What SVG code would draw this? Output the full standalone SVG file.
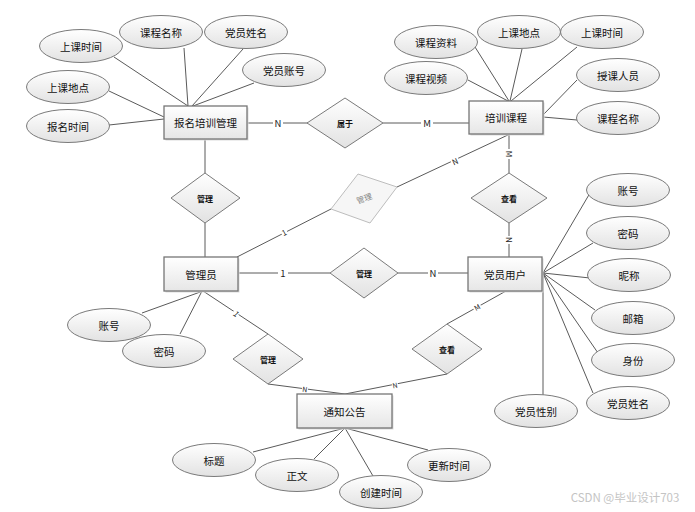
<svg xmlns="http://www.w3.org/2000/svg" width="695" height="512" viewBox="0 0 695 512">
<style>
text{font-family:"Noto Sans CJK SC","Liberation Sans",sans-serif;fill:#111;text-anchor:middle;dominant-baseline:central}
.t{font-size:10.5px}
.d{font-size:8px;font-weight:bold}
.l{font-size:9.5px;fill:#222}
.ls{font-size:8px;fill:#222}
.ent rect.b{fill:url(#gr);stroke:#767676;stroke-width:1.3}
.ent rect.s{fill:#dcdcdc}
.att ellipse{fill:url(#ge);stroke:#7a7a7a;stroke-width:1}
.rel polygon{fill:url(#ge);stroke:#7a7a7a;stroke-width:1}
#connectors line{stroke:#5a5a5a;stroke-width:1}
.bg{fill:#fff}
</style>
<defs>
<linearGradient id="ge" x1="0" y1="0" x2="0" y2="1"><stop offset="0" stop-color="#ffffff"/><stop offset="1" stop-color="#e2e2e2"/></linearGradient>
<linearGradient id="gr" x1="0" y1="0" x2="0" y2="1"><stop offset="0" stop-color="#ffffff"/><stop offset="1" stop-color="#e6e6e6"/></linearGradient>
</defs>
<rect width="695" height="512" fill="#fff"/>
<g id="connectors">
<line x1="114" y1="57" x2="188" y2="106"/>
<line x1="184" y1="48" x2="188" y2="106"/>
<line x1="243" y1="49" x2="192" y2="106"/>
<line x1="254" y1="83" x2="193" y2="106"/>
<line x1="109" y1="91" x2="164" y2="117"/>
<line x1="109" y1="125" x2="164" y2="119"/>
<line x1="247" y1="123" x2="308" y2="123"/>
<line x1="205" y1="139" x2="205" y2="173"/>
<line x1="205" y1="223" x2="205" y2="257"/>
<line x1="383" y1="123" x2="469" y2="123"/>
<line x1="475" y1="47" x2="509" y2="101"/>
<line x1="522" y1="49" x2="510" y2="101"/>
<line x1="577" y1="47" x2="511" y2="101"/>
<line x1="468" y1="80" x2="508" y2="101"/>
<line x1="577" y1="80" x2="543" y2="115"/>
<line x1="577" y1="120" x2="543" y2="117"/>
<line x1="510" y1="134" x2="397" y2="187"/>
<line x1="509" y1="134" x2="509" y2="173"/>
<line x1="509" y1="223" x2="509" y2="257"/>
<line x1="237" y1="257" x2="331" y2="209"/>
<line x1="238" y1="273" x2="330" y2="273"/>
<line x1="398" y1="273" x2="468" y2="273"/>
<line x1="142" y1="313" x2="203" y2="291"/>
<line x1="180" y1="334" x2="202" y2="291"/>
<line x1="203" y1="291" x2="268" y2="334"/>
<line x1="268" y1="384" x2="345" y2="394"/>
<line x1="506" y1="291" x2="447" y2="324"/>
<line x1="447" y1="374" x2="345" y2="394"/>
<line x1="543" y1="273" x2="590" y2="193"/>
<line x1="543" y1="273" x2="593" y2="243"/>
<line x1="543" y1="273" x2="590" y2="278"/>
<line x1="543" y1="273" x2="595" y2="310"/>
<line x1="543" y1="273" x2="598" y2="353"/>
<line x1="543" y1="273" x2="593" y2="393"/>
<line x1="543" y1="273" x2="543" y2="396"/>
<line x1="345" y1="428" x2="253" y2="452"/>
<line x1="345" y1="428" x2="314" y2="459"/>
<line x1="345" y1="428" x2="373" y2="476"/>
<line x1="345" y1="428" x2="428" y2="450"/>
<rect class="bg" x="273" y="117" width="10" height="12"/><text class="l" x="278" y="123">N</text>
<rect class="bg" x="421" y="117" width="12" height="12"/><text class="l" x="427" y="123">M</text>
<rect class="bg" x="278" y="268" width="10" height="11"/><text class="l" x="283" y="273">1</text>
<rect class="bg" x="428" y="268" width="10" height="11"/><text class="l" x="433" y="273">N</text>
<g transform="translate(455,161) rotate(-25)"><rect class="bg" x="-4" y="-5" width="8" height="10"/><text class="ls" x="0" y="0">N</text></g>
<g transform="translate(509,154) rotate(90)"><rect class="bg" x="-5" y="-5" width="10" height="10"/><text class="ls" x="0" y="0">M</text></g>
<g transform="translate(509,240) rotate(90)"><rect class="bg" x="-4" y="-5" width="8" height="10"/><text class="ls" x="0" y="0">N</text></g>
<g transform="translate(284,232) rotate(-27)"><rect class="bg" x="-3" y="-5" width="6" height="10"/><text class="ls" x="0" y="0">1</text></g>
<g transform="translate(236,313) rotate(33)"><rect class="bg" x="-3" y="-4" width="6" height="8"/><text class="ls" x="0" y="0" font-style="italic">1</text></g>
<g transform="translate(305,389) rotate(7)"><rect class="bg" x="-3" y="-4" width="6" height="8"/><text class="ls" x="0" y="0" style="font-size:7px">N</text></g>
<g transform="translate(395,385) rotate(-11)"><rect class="bg" x="-3" y="-4" width="6" height="8"/><text class="ls" x="0" y="0" style="font-size:7px">N</text></g>
<g transform="translate(477,307) rotate(-29)"><rect class="bg" x="-4" y="-4" width="8" height="8"/><text class="ls" x="0" y="0" style="font-size:7px">M</text></g>
</g>
<g id="e-baoming" class="ent"><rect class="s" x="165.5" y="107.5" width="83" height="33"/><rect class="b" x="164" y="106" width="83" height="33"/><text class="t" x="205.5" y="122.5">报名培训管理</text></g>
<g id="e-kecheng" class="ent"><rect class="s" x="470.5" y="102.5" width="74" height="33"/><rect class="b" x="469" y="101" width="74" height="33"/><text class="t" x="506" y="117.5">培训课程</text></g>
<g id="e-admin" class="ent"><rect class="s" x="165.5" y="258.5" width="74" height="34"/><rect class="b" x="164" y="257" width="74" height="34"/><text class="t" x="201" y="274">管理员</text></g>
<g id="e-user" class="ent"><rect class="s" x="469.5" y="258.5" width="74" height="34"/><rect class="b" x="468" y="257" width="74" height="34"/><text class="t" x="505" y="274">党员用户</text></g>
<g id="e-notice" class="ent"><rect class="s" x="298.5" y="395.5" width="95" height="34"/><rect class="b" x="297" y="394" width="95" height="34"/><text class="t" x="344.5" y="411">通知公告</text></g>
<g id="r-shuyu" class="rel"><polygon points="307,123 345,98 383,123 345,148"/><text class="d" x="345" y="123">属于</text></g>
<g id="r-guanli1" class="rel"><polygon points="171,198 205,173 240,198 205,223"/><text class="d" x="205" y="198">管理</text></g>
<g id="r-chakan1" class="rel"><polygon points="471,198 509,173 547,198 509,223"/><text class="d" x="509" y="198">查看</text></g>
<g id="r-guanli-gray"><polygon points="358,174 397,187 370,223 331,209" fill="#f6f6f6" stroke="#bdbdbd" stroke-width="1"/><text x="364" y="198" transform="rotate(-20 364 198)" style="font-size:8px;fill:#888">管理</text></g>
<g id="r-guanli2" class="rel"><polygon points="330,273 364,248 398,273 364,298"/><text class="d" x="364" y="273">管理</text></g>
<g id="r-guanli3" class="rel"><polygon points="233,359 268,334 303,359 268,384"/><text class="d" x="268" y="359">管理</text></g>
<g id="r-chakan2" class="rel"><polygon points="412,349 447,324 482,349 447,374"/><text class="d" x="447" y="349">查看</text></g>
<g id="a1" class="att"><ellipse cx="81" cy="46" rx="41.5" ry="16.5"/><text class="t" x="81" y="46">上课时间</text></g>
<g id="a2" class="att"><ellipse cx="161" cy="32" rx="41.5" ry="16.5"/><text class="t" x="161" y="32">课程名称</text></g>
<g id="a3" class="att"><ellipse cx="246" cy="32" rx="41.5" ry="16.5"/><text class="t" x="246" y="32">党员姓名</text></g>
<g id="a4" class="att"><ellipse cx="284" cy="70" rx="41.5" ry="16.5"/><text class="t" x="284" y="70">党员账号</text></g>
<g id="a5" class="att"><ellipse cx="68" cy="87" rx="41.5" ry="16.5"/><text class="t" x="68" y="87">上课地点</text></g>
<g id="a6" class="att"><ellipse cx="68" cy="126" rx="41.5" ry="16.5"/><text class="t" x="68" y="126">报名时间</text></g>
<g id="a7" class="att"><ellipse cx="436" cy="42" rx="41.5" ry="16.5"/><text class="t" x="436" y="42">课程资料</text></g>
<g id="a8" class="att"><ellipse cx="519" cy="32" rx="41.5" ry="16.5"/><text class="t" x="519" y="32">上课地点</text></g>
<g id="a9" class="att"><ellipse cx="602" cy="32" rx="41.5" ry="16.5"/><text class="t" x="602" y="32">上课时间</text></g>
<g id="a10" class="att"><ellipse cx="426" cy="78" rx="41.5" ry="16.5"/><text class="t" x="426" y="78">课程视频</text></g>
<g id="a11" class="att"><ellipse cx="618" cy="75" rx="41.5" ry="16.5"/><text class="t" x="618" y="75">授课人员</text></g>
<g id="a12" class="att"><ellipse cx="618" cy="118" rx="41.5" ry="16.5"/><text class="t" x="618" y="118">课程名称</text></g>
<g id="a13" class="att"><ellipse cx="628" cy="190" rx="41.5" ry="16.5"/><text class="t" x="628" y="190">账号</text></g>
<g id="a14" class="att"><ellipse cx="628" cy="233" rx="41.5" ry="16.5"/><text class="t" x="628" y="233">密码</text></g>
<g id="a15" class="att"><ellipse cx="629" cy="275" rx="41.5" ry="16.5"/><text class="t" x="629" y="275">昵称</text></g>
<g id="a16" class="att"><ellipse cx="633" cy="318" rx="41.5" ry="16.5"/><text class="t" x="633" y="318">邮箱</text></g>
<g id="a17" class="att"><ellipse cx="633" cy="360" rx="41.5" ry="16.5"/><text class="t" x="633" y="360">身份</text></g>
<g id="a18" class="att"><ellipse cx="628" cy="403" rx="41.5" ry="16.5"/><text class="t" x="628" y="403">党员姓名</text></g>
<g id="a19" class="att"><ellipse cx="536" cy="411" rx="41.5" ry="16.5"/><text class="t" x="536" y="411">党员性别</text></g>
<g id="a20" class="att"><ellipse cx="109" cy="325" rx="41.5" ry="16.5"/><text class="t" x="109" y="325">账号</text></g>
<g id="a21" class="att"><ellipse cx="164" cy="351" rx="41.5" ry="16.5"/><text class="t" x="164" y="351">密码</text></g>
<g id="a22" class="att"><ellipse cx="214" cy="460" rx="41.5" ry="16.5"/><text class="t" x="214" y="460">标题</text></g>
<g id="a23" class="att"><ellipse cx="297" cy="475" rx="41.5" ry="16.5"/><text class="t" x="297" y="475">正文</text></g>
<g id="a24" class="att"><ellipse cx="449" cy="465" rx="41.5" ry="16.5"/><text class="t" x="449" y="465">更新时间</text></g>
<g id="a25" class="att"><ellipse cx="381" cy="492" rx="41.5" ry="16.5"/><text class="t" x="381" y="492">创建时间</text></g>
<text x="625" y="497" style="font-size:11.5px;fill:#c4c4c4">CSDN @毕业设计703</text>
</svg>
